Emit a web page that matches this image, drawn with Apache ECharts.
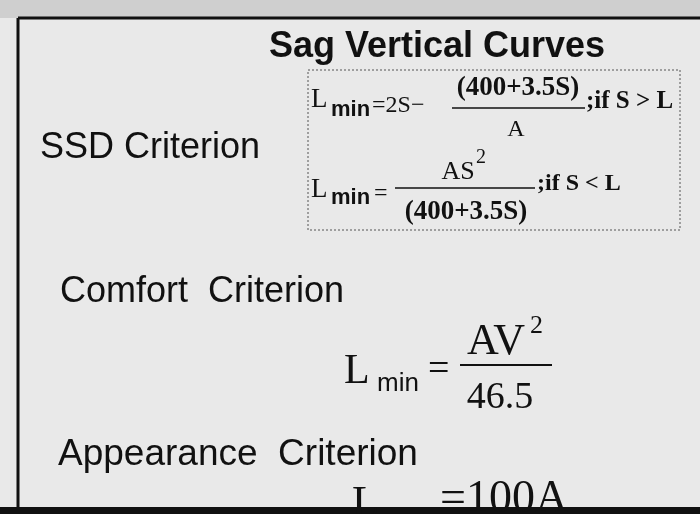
<!DOCTYPE html>
<html>
<head>
    <script src="https://cdn.jsdelivr.net/npm/echarts@6/dist/echarts.min.js"></script>
</head>
<body style="margin:0">
<div id="main" style="width:700px;height:514px"></div>
<script>
    const title = 'Sag Vertical Curves';
    const criteria = ['SSD Criterion', 'Comfort  Criterion', 'Appearance  Criterion'];
    const ssdTop = ['=2S\u2212', '(400+3.5S)', 'A', ';if S > L'];
    const ssdBottom = ['=', 'AS', '(400+3.5S)', ';if S < L'];
    const comfort = ['=', 'AV', '46.5'];
    const appearance = ['=100A'];

    const serif = '"Liberation Serif", "DejaVu Serif", serif';
    const sans = '"Liberation Sans", Arial, sans-serif';
    const ink = '#111';

    function txt(x, y, s, size, font, weight, align) {
        return {
            type: 'text', x: x, y: y,
            style: { text: s, fontSize: size, fontFamily: font, fontWeight: weight || 'normal',
                fill: ink, textAlign: align || 'left', textVerticalAlign: 'middle' }
        };
    }
    function line(x1, y1, x2, y2, w, dash) {
        return { type: 'line', shape: { x1, y1, x2, y2 },
            style: { stroke: ink, lineWidth: w || 1.5, lineDash: dash || null } };
    }

    const els = [
        { type: 'rect', shape: { x: 0, y: 0, width: 700, height: 18 }, style: { fill: '#cfcfcf' } },
        line(18, 18, 700, 18, 3),
        line(18, 18, 18, 514, 3),
        { type: 'rect', shape: { x: 0, y: 507, width: 700, height: 7 }, style: { fill: '#111' } },
        txt(437, 47, title, 36, sans, 'bold', 'center'),
        txt(40, 148, criteria[0], 36, sans),
        txt(60, 292, criteria[1], 36, sans),
        txt(58, 455, criteria[2], 37, sans),
        { type: 'rect', shape: { x: 308, y: 70, width: 372, height: 160 },
          style: { fill: 'none', stroke: '#555', lineWidth: 1, lineDash: [2, 2] } },
        // SSD S > L
        txt(311, 100, 'L', 27, serif),
        txt(331, 110, 'min', 22, sans, 'bold'),
        txt(372, 106, ssdTop[0], 24, serif),
        txt(518, 88, ssdTop[1], 27, serif, 'bold', 'center'),
        line(452, 108, 585, 108, 1.5),
        txt(516, 130, ssdTop[2], 24, serif, 'normal', 'center'),
        txt(586, 102, ssdTop[3], 25, serif, 'bold'),
        // SSD S < L
        txt(311, 190, 'L', 27, serif),
        txt(331, 198, 'min', 22, sans, 'bold'),
        txt(374, 194, ssdBottom[0], 24, serif),
        txt(458, 172, ssdBottom[1], 26, serif, 'normal', 'center'),
        txt(476, 158, '2', 20, serif),
        line(395, 188, 535, 188, 1.5),
        txt(466, 212, ssdBottom[2], 27, serif, 'bold', 'center'),
        txt(537, 184, ssdBottom[3], 24, serif, 'bold'),
        // Comfort
        txt(344, 372, 'L', 42, serif),
        txt(377, 384, 'min', 26, sans),
        txt(428, 370, comfort[0], 38, serif),
        txt(496, 342, comfort[1], 44, serif, 'normal', 'center'),
        txt(530, 326, '2', 26, serif),
        line(460, 365, 552, 365, 2),
        txt(500, 398, comfort[2], 38, serif, 'normal', 'center'),
        // Appearance
        txt(352, 504, 'L', 44, serif),
        txt(440, 500, appearance[0], 46, serif)
    ];

    const chart = echarts.init(document.getElementById('main'));
    chart.setOption({ backgroundColor: '#e9e9e9', graphic: { elements: els } });
</script>
</body>
</html>
